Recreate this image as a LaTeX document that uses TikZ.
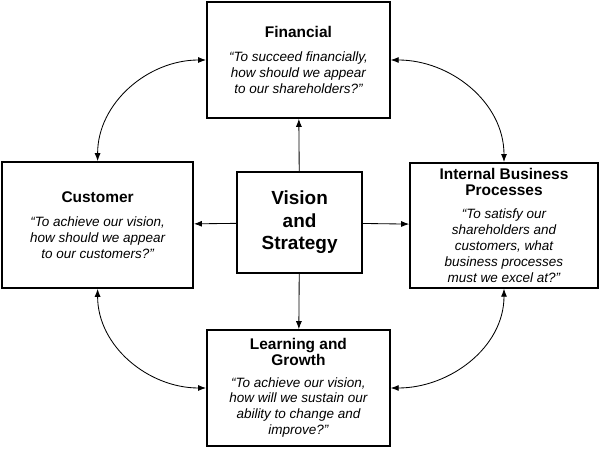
\documentclass[tikz,border=0pt]{standalone}
\usepackage{fontspec}
\setmainfont{Liberation Sans}
\usetikzlibrary{positioning, arrows.meta}

\begin{document}
\begin{tikzpicture}[
box/.style={draw, very thick, align=center, font=\fontsize{9.6}{11.3}\selectfont\itshape, inner sep=2pt},
arrow/.style={semithick, -{Latex[length=2mm]}},
loop/.style={semithick, {Latex[length=2mm]}-{Latex[length=2mm]}} ]

\useasboundingbox (0,0) rectangle (15,11.225);

% Nodes
\node[box, minimum width=3.125cm, minimum height=2.525cm, font=\fontsize{13.5}{16}\selectfont\bfseries] (vision) at (7.49,5.66) {Vision\\and\\Strategy};
\node[box, minimum width=4.575cm, minimum height=2.9cm] (financial) at (7.46,9.725)
  {{\fontsize{11}{12.5}\selectfont\bfseries\upshape Financial}\\[6pt]``To succeed financially,\\how should we appear\\to our shareholders?''};
\node[box, minimum width=4.775cm, minimum height=3.15cm] (customer) at (2.44,5.6)
  {{\fontsize{11}{12.5}\selectfont\bfseries\upshape Customer}\\[6pt]``To achieve our vision,\\how should we appear\\to our customers?''};
\node[box, minimum width=4.7cm, minimum height=3.125cm] (internal) at (12.6,5.59)
  {{\fontsize{11}{12.5}\selectfont\bfseries\upshape Internal Business}\\{\fontsize{11}{12.5}\selectfont\bfseries\upshape Processes}\\[5pt]``To satisfy our\\shareholders and\\customers, what\\business processes\\must we excel at?''};
\node[box, minimum width=4.575cm, minimum height=2.9cm] (learning) at (7.46,1.525)
  {{\fontsize{11}{12.5}\selectfont\bfseries\upshape Learning and}\\{\fontsize{11}{12.5}\selectfont\bfseries\upshape Growth}\\[4pt]``To achieve our vision,\\how will we sustain our\\ability to change and\\improve?''};

% Arrows
\draw[arrow] (vision) -- (financial);
\draw[arrow] (vision) -- (customer);
\draw[arrow] (vision) -- (internal);
\draw[arrow] (vision) -- (learning);
\draw[loop] (financial.west) to[out=180, in=90] (customer.north);
\draw[loop] (financial.east) to[out=0, in=90] (internal.north);
\draw[loop] (customer.south) to[out=-90, in=180] (learning.west);
\draw[loop] (internal.south) to[out=-90, in=0] (learning.east);

\end{tikzpicture}
\end{document}
